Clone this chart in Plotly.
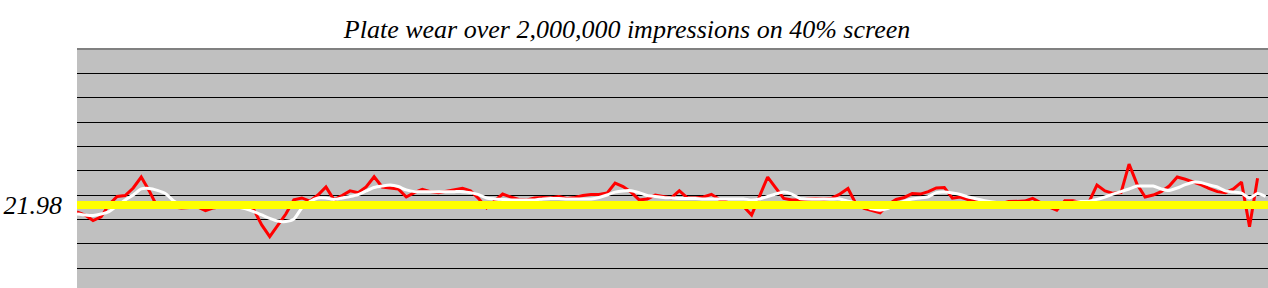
import plotly.graph_objects as go

TITLE = "Plate wear over 2,000,000 impressions on 40% screen"
MEAN = 21.98
MEAN_LABEL = "21.98"

# sample index (one per measurement)
sample = list(range(149))

# measured plate wear (red)
measured = [
    21.952, 21.939, 21.916, 21.931, 21.982, 22.015, 22.019, 22.050, 22.095, 22.038,
    21.972, 21.988, 21.972, 21.968, 21.970, 21.972, 21.957, 21.968, 21.974, 21.974,
    21.974, 21.972, 21.962, 21.898, 21.850, 21.894, 21.943, 22.001, 22.009, 21.996,
    22.021, 22.054, 22.001, 22.019, 22.038, 22.031, 22.054, 22.096, 22.054, 22.050,
    22.046, 22.013, 22.031, 22.044, 22.035, 22.031, 22.038, 22.044, 22.049, 22.038,
    22.007, 21.968, 21.996, 22.025, 22.013, 22.003, 22.001, 22.009, 22.011, 22.009,
    22.015, 22.007, 22.011, 22.019, 22.023, 22.023, 22.029, 22.070, 22.056, 22.033,
    22.001, 22.005, 22.021, 22.014, 22.009, 22.039, 22.009, 22.009, 22.013, 22.024,
    22.003, 21.992, 21.982, 21.974, 21.939, 22.021, 22.095, 22.050, 22.007, 22.001,
    22.001, 22.005, 22.007, 22.005, 22.008, 22.025, 22.048, 21.984, 21.966, 21.957,
    21.948, 21.982, 22.003, 22.011, 22.027, 22.025, 22.035, 22.050, 22.052, 22.008,
    22.013, 22.001, 21.998, 21.992, 21.986, 21.984, 21.994, 21.995, 21.996, 22.007,
    21.990, 21.972, 21.959, 21.998, 21.998, 21.990, 21.992, 22.062, 22.038, 22.028,
    22.031, 22.148, 22.065, 22.013, 22.021, 22.035, 22.058, 22.095, 22.086, 22.074,
    22.063, 22.047, 22.035, 22.031, 22.046, 22.074, 21.891, 22.090, None,
]

# moving average (white)
moving_avg = [
    21.943, 21.939, 21.937, 21.943, 21.953, 21.976, 22.001, 22.021, 22.046, 22.048,
    22.040, 22.027, 21.998, 21.980, 21.976, 21.976, 21.976, 21.976, 21.976, 21.976,
    21.972, 21.964, 21.953, 21.939, 21.925, 21.914, 21.912, 21.922, 21.968, 21.994,
    22.009, 22.009, 22.003, 22.009, 22.015, 22.023, 22.038, 22.052, 22.058, 22.062,
    22.056, 22.042, 22.035, 22.035, 22.035, 22.035, 22.035, 22.035, 22.035, 22.031,
    22.023, 22.009, 22.005, 22.003, 22.001, 22.001, 22.001, 22.001, 22.005, 22.007,
    22.007, 22.005, 22.005, 22.005, 22.005, 22.011, 22.021, 22.033, 22.038, 22.039,
    22.031, 22.019, 22.015, 22.011, 22.009, 22.007, 22.007, 22.007, 22.005, 22.005,
    22.005, 22.005, 22.005, 22.005, 22.001, 22.005, 22.015, 22.025, 22.033, 22.025,
    22.007, 22.005, 22.005, 22.005, 22.005, 22.005, 21.996, 21.988, 21.976, 21.964,
    21.959, 21.966, 21.984, 21.996, 22.005, 22.009, 22.014, 22.031, 22.033, 22.029,
    22.023, 22.013, 22.005, 21.998, 21.992, 21.988, 21.986, 21.984, 21.984, 21.984,
    21.984, 21.984, 21.986, 21.988, 21.990, 21.994, 21.996, 22.003, 22.013, 22.025,
    22.035, 22.046, 22.058, 22.058, 22.058, 22.046, 22.040, 22.050, 22.064, 22.074,
    22.072, 22.062, 22.054, 22.038, 22.033, 22.029, 22.009, 22.027, 22.015,
]

# horizontal gridlines of the value axis
grid_values = [21.72, 21.82, 21.92, 22.02, 22.12, 22.22, 22.32, 22.42, 22.52, 22.62]

fig = go.Figure()
fig.add_trace(go.Scatter(x=sample, y=measured, mode="lines",
                         line=dict(color="#FF0000", width=3), hoverinfo="skip"))
fig.add_trace(go.Scatter(x=sample, y=moving_avg, mode="lines",
                         line=dict(color="#FFFFFF", width=3, shape="spline", smoothing=0.6),
                         hoverinfo="skip"))
fig.add_hline(y=MEAN, line=dict(color="#FFFF00", width=8), layer="above")

tickvals = grid_values + [MEAN]
ticktext = [""] * len(grid_values) + [MEAN_LABEL]

fig.update_layout(
    width=1268, height=288,
    margin=dict(l=77, r=0, t=50, b=0),
    paper_bgcolor="white",
    plot_bgcolor="#C0C0C0",
    showlegend=False,
    title=dict(text=TITLE, x=0.4945, xanchor="center", xref="container",
               y=0.900, yanchor="middle", yref="container",
               font=dict(family="Liberation Serif", size=26, color="black", style="italic")),
    xaxis=dict(range=[0, 148.3], showgrid=False, zeroline=False, showticklabels=False,
               ticks="", side="top", showline=True, linecolor="#808080", linewidth=2),
    yaxis=dict(range=[21.639, 22.617], tickmode="array", tickvals=tickvals, ticktext=ticktext,
               showgrid=True, gridcolor="black", gridwidth=1, zeroline=False, ticks="",
               ticklabelstandoff=14,
               tickfont=dict(family="Liberation Serif", size=26, color="black", style="italic")),
)

fig.write_html("out.html")
